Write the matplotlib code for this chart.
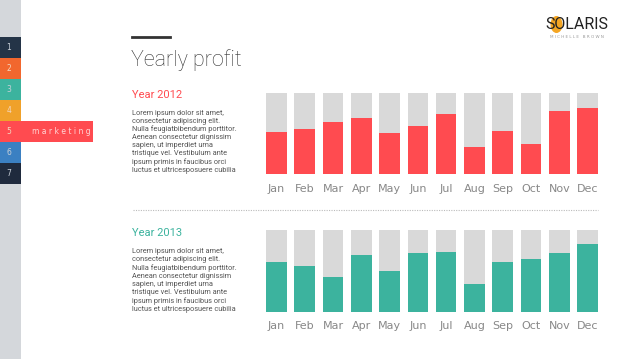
import matplotlib.pyplot as plt
from matplotlib.patches import Rectangle, Ellipse
from matplotlib.lines import Line2D

W, H = 638, 359

months = ['Jan', 'Feb', 'Mar', 'Apr', 'May', 'Jun', 'Jul', 'Aug', 'Sep', 'Oct', 'Nov', 'Dec']
profit_2012 = [0.515, 0.555, 0.637, 0.694, 0.502, 0.596, 0.735, 0.331, 0.534, 0.375, 0.780, 0.816]
profit_2013 = [0.608, 0.559, 0.428, 0.698, 0.502, 0.715, 0.734, 0.335, 0.605, 0.641, 0.718, 0.825]

nav_labels = ['1', '2', '3', '4', '5', '6', '7']
nav_colors = ['#243447', '#f2672e', '#3cb39e', '#f0a12a', '#ff4b50', '#3b80c2', '#1f2a3d']
lorem = ("Lorem ipsum dolor sit amet,\nconsectetur adipiscing elit.\nNulla feugiatbibendum porttitor.\n"
         "Aenean consectetur dignissim\nsapien, ut imperdiet urna\ntristique vel. Vestibulum ante\n"
         "ipsum primis in faucibus orci\nluctus et ultricesposuere cubilia")

RED = '#ff4b50'
TEAL = '#3cb39e'
GREY_BAR = '#d9d9d9'


def fx(px):
    return px / W


def fy(py):
    return 1 - py / H


fig = plt.figure(figsize=(W / 100, H / 100), dpi=100)
fig.patch.set_facecolor('white')

# sidebar
fig.patches.append(Rectangle((0, 0), fx(20.7), 1, transform=fig.transFigure,
                             facecolor='#d4d7db', edgecolor='none'))
box_h = 20.9
for i, (lab, col) in enumerate(zip(nav_labels, nav_colors)):
    top = 37.3 + i * box_h
    width = 92.7 if i == 4 else 20.7
    fig.patches.append(Rectangle((0, fy(top + box_h)), fx(width), box_h / H,
                                 transform=fig.transFigure, facecolor=col, edgecolor='none'))
    fig.text(fx(9), fy(top + box_h / 2), lab, color='#f3d7c0' if i in (1, 3, 4) else '#c9d0d8',
             fontsize=5.5, ha='center', va='center', family='DejaVu Sans')
fig.text(fx(32), fy(37.3 + 4.5 * box_h), 'm a r k e t i n g', color='#ffd6d6', fontsize=5.5,
         ha='left', va='center', family='DejaVu Sans')

# title
fig.lines.append(Line2D([fx(132), fx(170)], [fy(37), fy(37)], transform=fig.transFigure,
                        color='#333333', lw=2))
fig.text(fx(131), fy(60), 'Yearly profit', fontsize=15.5, color='#333333', ha='left',
         va='center', family='Roboto', fontweight='light')

# logo
fig.patches.append(Ellipse((fx(556.5), fy(24.5)), 12 / W, 17 / H, transform=fig.transFigure,
                           facecolor='#f5a623', edgecolor='none'))
fig.text(fx(577), fy(24.5), 'SOLARIS', fontsize=11.5, color='#222222', ha='center',
         va='center', family='Roboto')
fig.text(fx(577), fy(37.5), 'M I C H E L L E   B R O W N', fontsize=3, color='#999999',
         ha='center', va='center', family='DejaVu Sans')

# separator
fig.lines.append(Line2D([fx(133), fx(598)], [fy(210), fy(210)], transform=fig.transFigure,
                        color='#bbbbbb', lw=0.8, ls=(0, (1, 1.2))))

sections = [
    ('Year 2012', RED, profit_2012, 95, 113.5, 92.7, 174.3),
    ('Year 2013', TEAL, profit_2013, 233, 252, 230, 311.7),
]

for name, col, vals, head_y, text_y, ax_top, ax_bot in sections:
    fig.text(fx(132), fy(head_y), name, fontsize=8, color=col, ha='left', va='center',
             family='Roboto')
    fig.text(fx(132), fy(text_y - 4), lorem, fontsize=5.3, color='#555555', ha='left',
             va='top', family='Roboto', linespacing=1.2)

    ax = fig.add_axes([fx(266), fy(ax_bot), fx(598) - fx(266), (ax_bot - ax_top) / H])
    x = range(len(months))
    ax.bar(x, [1] * len(months), width=0.73, color=GREY_BAR, edgecolor='none')
    ax.bar(x, vals, width=0.73, color=col, edgecolor='none')
    ax.set_xlim(-0.365, len(months) - 1 + 0.365)
    ax.set_ylim(0, 1)
    ax.set_xticks(list(x))
    ax.set_xticklabels(months, fontsize=8, color='#888888', family='DejaVu Sans')
    ax.tick_params(axis='x', length=0, pad=7)
    ax.set_yticks([])
    for s in ax.spines.values():
        s.set_visible(False)
    ax.patch.set_alpha(0)

fig.savefig('out.png', dpi=100)
